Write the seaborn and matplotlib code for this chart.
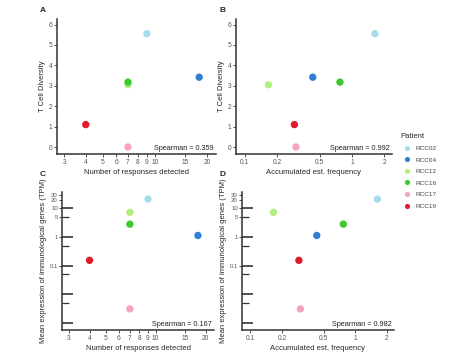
import numpy as np
import pandas as pd
import seaborn as sns
import matplotlib.pyplot as plt
from matplotlib.ticker import FixedLocator, NullFormatter, FixedFormatter

patients = ["RCC02", "RCC04", "RCC12", "RCC16", "RCC17", "RCC19"]
n_responses = [9, 18, 7, 7, 7, 4]
acc_freq = [1.63, 0.43, 0.166, 0.77, 0.30, 0.29]
tcell_div = [5.55, 3.42, 3.05, 3.18, 0.0, 1.1]
mean_expr = [21, 1.13, 7.2, 2.8, 0.0031, 0.153]
spearman = ["0.359", "0.992", "0.167", "0.982"]
colors = ["#A6DDEB", "#2F7FD4", "#B5EE80", "#3CC92E", "#F7A3BA", "#DE1A2B"]

df = pd.DataFrame({"Patient": patients, "n_resp": n_responses, "freq": acc_freq,
                   "div": tcell_div, "expr": mean_expr})

sns.set_theme(style="ticks")
plt.rcParams['font.family'] = ['Liberation Sans', 'DejaVu Sans']

fig = plt.figure(figsize=(4.74, 3.56), dpi=100)
W, H = 474, 356
def box(l, r, t, b):
  return [l / W, 1 - b / H, (r - l) / W, (b - t) / H]

axA = fig.add_axes(box(57, 216, 19, 154))
axB = fig.add_axes(box(236, 392, 19, 154))
axC = fig.add_axes(box(62, 214, 192, 330))
axD = fig.add_axes(box(242, 394, 192, 330))

pal = dict(zip(patients, colors))
panels = [(axA, "n_resp", "div"), (axB, "freq", "div"), (axC, "n_resp", "expr"), (axD, "freq", "expr")]
for i, (ax, xc, yc) in enumerate(panels):
  sns.scatterplot(data=df, x=xc, y=yc, hue="Patient", palette=pal, s=28,
                  edgecolor="none", ax=ax, legend=(i == 1))
  ax.set_xscale("log")
  if xc == "n_resp":
    ax.set_xlim(2.73, 22.5)
    ticks = [3, 4, 5, 6, 7, 8, 9, 10, 15, 20]
    ax.set_xlabel("Number of responses detected")
  else:
    ax.set_xlim(0.083, 2.35)
    ticks = [0.1, 0.2, 0.5, 1, 2]
    ax.set_xlabel("Accumulated est. frequency")
  ax.xaxis.set_major_locator(FixedLocator(ticks))
  ax.xaxis.set_major_formatter(FixedFormatter([f"{t:g}" for t in ticks]))
  ax.xaxis.set_minor_locator(FixedLocator([]))
  if yc == "div":
    ax.set_ylim(-0.34, 6.27)
    ax.set_yticks(range(7))
    ax.set_ylabel("T Cell Diversity")
  else:
    ax.set_yscale("log")
    ax.set_ylim(0.00057, 37)
    yt = [0.1, 1, 5, 10, 20, 30]
    ax.yaxis.set_major_locator(FixedLocator(yt))
    ax.yaxis.set_major_formatter(FixedFormatter([f"{t:g}" for t in yt]))
    ax.yaxis.set_minor_locator(FixedLocator([0.001, 0.01, 0.1, 1, 10]))
    ax.yaxis.set_minor_formatter(NullFormatter())
    ax.yaxis.remove_overlapping_locs = False
    ax.tick_params(axis="y", which="minor", direction="in", length=8, width=1.2, color="#333333")
    sec = ax.secondary_yaxis("left")
    sec.set_yscale("log")
    sec.yaxis.set_major_locator(FixedLocator([0.005, 0.05, 0.5, 5]))
    sec.yaxis.set_minor_locator(FixedLocator([]))
    sec.yaxis.set_major_formatter(NullFormatter())
    sec.tick_params(axis="y", direction="in", length=5, width=0.9, color="#333333")
    sec.spines["left"].set_visible(False)
    ax.set_ylabel("Mean expression of immunological genes (TPM)")
  ax.tick_params(which="major", labelsize=4.8, length=2, width=0.6, colors="#333333",
                 labelcolor="#555555", pad=1.5)
  if yc == "expr":
    ax.tick_params(axis="y", which="major", labelsize=4.3, pad=1)
  ax.xaxis.label.set_size(5.5)
  ax.yaxis.label.set_size(5.5)
  ax.xaxis.labelpad = 2
  ax.yaxis.labelpad = 2
  for s in ["left", "bottom"]:
    ax.spines[s].set_linewidth(1.1)
    ax.spines[s].set_color("#333333")
  sns.despine(ax=ax)
  ax.text(0.985, 0.012, f"Spearman = {spearman[i]}", transform=ax.transAxes,
          ha="right", va="bottom", fontsize=5.2, color="#222222")

handles, labels = axB.get_legend_handles_labels()
axB.get_legend().remove()
leg = fig.legend(handles, labels, title="Patient", loc="upper left",
                 bbox_to_anchor=(398 / W, 1 - 130 / H), frameon=False,
                 fontsize=4.6, title_fontsize=5.5, handletextpad=0.3,
                 labelspacing=0.95, markerscale=0.7, borderaxespad=0)
leg._legend_box.align = "left"
for t in leg.get_texts():
  t.set_color("#444444")

for lab, (x, y) in zip("ABCD", [(43, 10), (223, 10), (43, 174), (223, 174)]):
  fig.text(x / W, 1 - y / H, lab, fontsize=6, fontweight="bold", ha="center", va="center")

fig.savefig("out.png", dpi=100)
